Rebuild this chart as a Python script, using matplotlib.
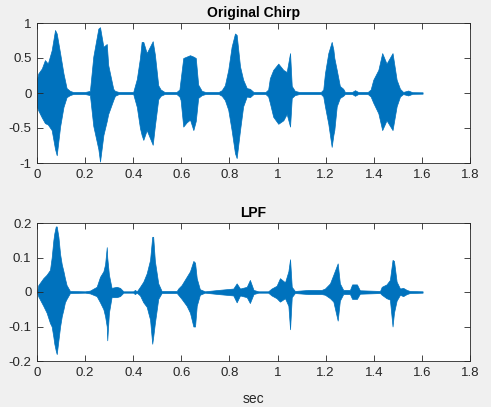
import numpy as np
import matplotlib
matplotlib.use("Agg")
import matplotlib.pyplot as plt

plt.rcParams['font.family'] = ['Liberation Sans', 'DejaVu Sans']

# ---- Original chirp envelope ----
orig_t = [0.0, 0.0055, 0.02, 0.033, 0.045, 0.061, 0.075, 0.082, 0.096, 0.11, 0.123, 0.137, 0.15,
          0.2, 0.22, 0.234, 0.255, 0.262, 0.276, 0.29, 0.296, 0.317, 0.324, 0.34,
          0.4, 0.415, 0.428, 0.435, 0.442, 0.456, 0.481, 0.49, 0.504, 0.514, 0.53,
          0.58, 0.592, 0.597, 0.608, 0.622, 0.636, 0.65, 0.66, 0.67, 0.685, 0.7,
          0.755, 0.768, 0.781, 0.795, 0.809, 0.823, 0.83, 0.844, 0.857, 0.872, 0.885, 0.9,
          0.95, 0.961, 0.968, 0.982, 1.003, 1.024, 1.038, 1.052, 1.059, 1.072, 1.09,
          1.18, 1.19, 1.197, 1.211, 1.225, 1.232, 1.236, 1.246, 1.259, 1.273, 1.28,
          1.31, 1.322, 1.335, 1.375, 1.387, 1.398, 1.419, 1.435, 1.453, 1.478, 1.495,
          1.509, 1.522, 1.543, 1.56, 1.603]
orig_up = [0.2, 0.28, 0.35, 0.47, 0.42, 0.61, 0.9, 0.85, 0.57, 0.28, 0.07, 0.03, 0.015,
           0.015, 0.03, 0.52, 0.92, 0.94, 0.66, 0.7, 0.4, 0.06, 0.03, 0.015,
           0.015, 0.2, 0.5, 0.73, 0.73, 0.57, 0.74, 0.55, 0.11, 0.05, 0.015,
           0.015, 0.05, 0.19, 0.5, 0.52, 0.54, 0.52, 0.5, 0.12, 0.03, 0.015,
           0.015, 0.04, 0.11, 0.33, 0.66, 0.85, 0.83, 0.38, 0.19, 0.07, 0.06, 0.015,
           0.015, 0.05, 0.21, 0.33, 0.42, 0.33, 0.3, 0.57, 0.1, 0.03, 0.015,
           0.015, 0.05, 0.28, 0.57, 0.73, 0.62, 0.5, 0.33, 0.1, 0.06, 0.015,
           0.015, 0.04, 0.015, 0.015, 0.05, 0.19, 0.33, 0.57, 0.42, 0.57, 0.19,
           0.06, 0.015, 0.035, 0.012, 0.01]
orig_lo = [-0.2, -0.25, -0.35, -0.43, -0.45, -0.53, -0.8, -0.89, -0.48, -0.2, -0.06, -0.03, -0.015,
           -0.015, -0.03, -0.47, -0.8, -0.98, -0.6, -0.4, -0.3, -0.1, -0.04, -0.015,
           -0.015, -0.2, -0.5, -0.6, -0.67, -0.53, -0.74, -0.47, -0.09, -0.04, -0.015,
           -0.015, -0.05, -0.1, -0.48, -0.42, -0.38, -0.53, -0.4, -0.07, -0.03, -0.015,
           -0.015, -0.04, -0.1, -0.24, -0.53, -0.86, -0.93, -0.53, -0.19, -0.05, -0.06, -0.015,
           -0.015, -0.05, -0.14, -0.34, -0.44, -0.39, -0.3, -0.48, -0.07, -0.03, -0.015,
           -0.015, -0.05, -0.19, -0.44, -0.77, -0.6, -0.53, -0.19, -0.07, -0.04, -0.015,
           -0.015, -0.04, -0.015, -0.015, -0.05, -0.14, -0.29, -0.53, -0.39, -0.53, -0.19,
           -0.05, -0.015, -0.035, -0.012, -0.01]

# ---- LPF output envelope ----
lpf_t = [0.0, 0.0055, 0.026, 0.04, 0.054, 0.061, 0.068, 0.072, 0.078, 0.082, 0.089, 0.096, 0.103,
         0.11, 0.116, 0.123, 0.137, 0.2, 0.22, 0.248, 0.262, 0.276, 0.283, 0.29, 0.292, 0.299,
         0.31, 0.331, 0.345, 0.359, 0.4, 0.407, 0.415, 0.428, 0.442, 0.456, 0.47, 0.479, 0.483,
         0.49, 0.504, 0.518, 0.581, 0.587, 0.601, 0.622, 0.636, 0.65, 0.657, 0.664, 0.677, 0.698,
         0.754, 0.816, 0.83, 0.844, 0.872, 0.885, 0.9, 0.92, 0.961, 0.975, 0.996, 1.01, 1.031,
         1.045, 1.052, 1.059, 1.072, 1.128, 1.183, 1.197, 1.218, 1.232, 1.25, 1.259, 1.273,
         1.301, 1.31, 1.33, 1.342, 1.426, 1.433, 1.453, 1.467, 1.478, 1.484, 1.495, 1.509,
         1.522, 1.537, 1.55, 1.603]
lpf_up = [0.0, 0.02, 0.04, 0.05, 0.064, 0.1, 0.15, 0.17, 0.19, 0.19, 0.16, 0.11, 0.08,
          0.06, 0.04, 0.02, 0.003, 0.002, 0.004, 0.015, 0.044, 0.06, 0.08, 0.13, 0.1, 0.05,
          0.012, 0.015, 0.012, 0.002, 0.002, 0.006, 0.002, 0.015, 0.03, 0.054, 0.093, 0.16, 0.16,
          0.09, 0.025, 0.003, 0.003, 0.01, 0.02, 0.044, 0.06, 0.09, 0.085, 0.04, 0.008, 0.002,
          0.006, 0.01, 0.025, 0.01, 0.015, 0.035, 0.006, 0.002, 0.002, 0.01, 0.018, 0.04, 0.028,
          0.06, 0.095, 0.015, 0.003, 0.006, 0.006, 0.01, 0.025, 0.05, 0.083, 0.025, 0.006,
          0.006, 0.022, 0.022, 0.005, 0.003, 0.015, 0.022, 0.035, 0.093, 0.09, 0.03, 0.01,
          0.012, 0.006, 0.003, 0.002]
lpf_lo = [0.0, -0.013, -0.04, -0.06, -0.09, -0.1, -0.13, -0.15, -0.17, -0.18, -0.14, -0.1, -0.07,
          -0.05, -0.03, -0.02, -0.003, -0.002, -0.004, -0.012, -0.03, -0.05, -0.07, -0.1, -0.14, -0.06,
          -0.015, -0.015, -0.012, -0.002, -0.002, -0.006, -0.002, -0.01, -0.03, -0.043, -0.08, -0.15, -0.13,
          -0.09, -0.02, -0.003, -0.003, -0.008, -0.02, -0.04, -0.06, -0.1, -0.1, -0.04, -0.008, -0.002,
          -0.006, -0.01, -0.03, -0.01, -0.015, -0.032, -0.006, -0.002, -0.002, -0.01, -0.018, -0.028, -0.018,
          -0.04, -0.108, -0.015, -0.003, -0.006, -0.006, -0.008, -0.018, -0.028, -0.083, -0.025, -0.006,
          -0.006, -0.02, -0.02, -0.005, -0.003, -0.008, -0.018, -0.022, -0.1, -0.06, -0.025, -0.008,
          -0.012, -0.006, -0.003, -0.002]

x_ticks = [0, 0.2, 0.4, 0.6, 0.8, 1, 1.2, 1.4, 1.6, 1.8]
x_labels = ['0', '0.2', '0.4', '0.6', '0.8', '1', '1.2', '1.4', '1.6', '1.8']
top_yticks = [-1, -0.5, 0, 0.5, 1]
top_ylabels = ['-1', '-0.5', '0', '0.5', '1']
bot_yticks = [-0.2, -0.1, 0, 0.1, 0.2]
bot_ylabels = ['-0.2', '-0.1', '0', '0.1', '0.2']

BLUE = '#0072BD'
AX = '#262626'
W, H = 491, 407
fig = plt.figure(figsize=(W / 100, H / 100), dpi=100, facecolor='#f0f0f0')

ax1 = fig.add_axes([37 / W, 1 - 163 / H, 433 / W, 140 / H])
ax2 = fig.add_axes([37 / W, 1 - 361 / H, 433 / W, 138 / H])


def style(ax, yt, yl, ylim):
    ax.set_xlim(0, 1.8)
    ax.set_ylim(*ylim)
    ax.set_xticks(x_ticks)
    ax.set_xticklabels(x_labels)
    ax.set_yticks(yt)
    ax.set_yticklabels(yl)
    ax.tick_params(direction='in', length=4, width=0.6, colors=AX, labelsize=9.5,
                   top=True, right=True, pad=4)
    for s in ax.spines.values():
        s.set_color(AX)
        s.set_linewidth(0.6)
    ax.set_facecolor('white')


def draw(ax, t, up, lo):
    t = np.asarray(t)
    ax.fill_between(t, lo, up, color=BLUE, linewidth=0.5, edgecolor=BLUE)


draw(ax1, orig_t, orig_up, orig_lo)
draw(ax2, lpf_t, lpf_up, lpf_lo)
style(ax1, top_yticks, top_ylabels, (-1, 1))
style(ax2, bot_yticks, bot_ylabels, (-0.2, 0.2))
ax1.set_title('Original Chirp', fontsize=10, fontweight='bold', color='black', pad=4)
ax2.set_title('LPF', fontsize=10, fontweight='bold', color='black', pad=4)
ax2.set_xlabel('sec', fontsize=10, color=AX, labelpad=10)

fig.savefig('out.png', dpi=100, facecolor=fig.get_facecolor())
